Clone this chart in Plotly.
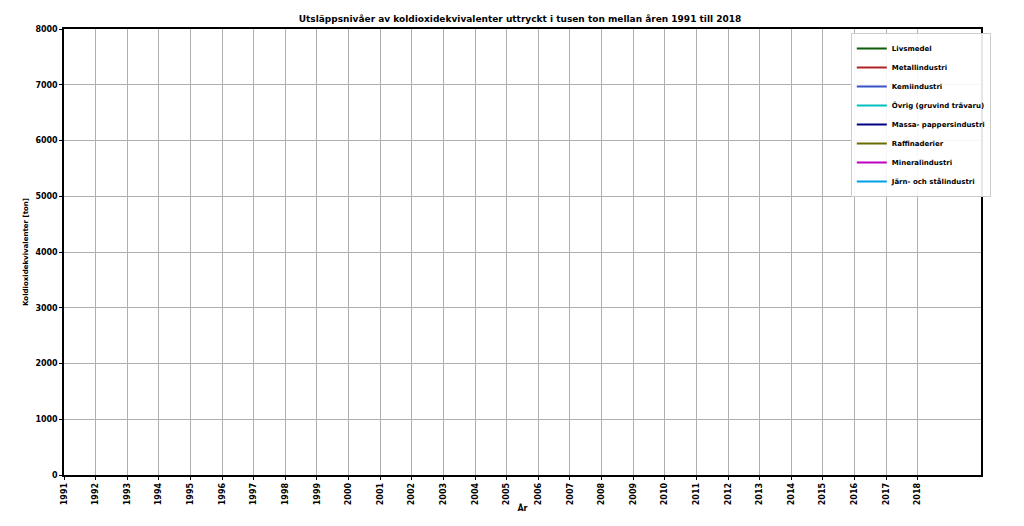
import plotly.graph_objects as go

years = list(range(1991, 2019))
year_labels = [str(y) for y in years]

industries = ['Livsmedel', 'Metallindustri', 'Kemiindustri', 'Övrig (gruvind trävaru)',
              'Massa- pappersindustri', 'Raffinaderier', 'Mineralindustri', 'Järn- och stålindustri']
colors = ['#0b5d0b', '#b22222', '#3a52c8', '#00bfbf', '#000080', '#6b6b00', '#c000c0', '#00a0e6']

# the reference shows no drawn values, only the legend entries
livsmedel = [None]
metallindustri = [None]
kemiindustri = [None]
ovrig = [None]
massa_papper = [None]
raffinaderier = [None]
mineralindustri = [None]
jarn_stal = [None]
series = [livsmedel, metallindustri, kemiindustri, ovrig, massa_papper, raffinaderier, mineralindustri, jarn_stal]

fig = go.Figure()
for name, color, values in zip(industries, colors, series):
    fig.add_trace(go.Scatter(x=years[:len(values)], y=values, mode='lines', name=name,
                             line=dict(color=color, width=2), showlegend=True))

axis_common = dict(showline=True, linecolor='black', linewidth=1.5, mirror=True,
                   showgrid=True, gridcolor='#b0b0b0', gridwidth=1,
                   ticks='outside', ticklen=3, tickcolor='black', zeroline=False,
                   tickfont=dict(size=8, color='black', weight='bold'))

fig.update_layout(
    width=1024, height=526,
    margin=dict(l=56, r=51, t=21, b=59),
    paper_bgcolor='white', plot_bgcolor='white',
    font=dict(family='DejaVu Sans', color='black'),
    title=dict(text='<b>Utsläppsnivåer av koldioxidekvivalenter uttryckt i tusen ton mellan åren 1991 till 2018</b>',
               x=0.5, xanchor='center', y=0.985, yanchor='top', font=dict(size=9)),
    xaxis=dict(range=[1991, 2020], tickmode='array', tickvals=years, ticktext=year_labels,
               tickangle=-90,
               title=dict(text='<b>År</b>', font=dict(size=8), standoff=1), **axis_common),
    yaxis=dict(range=[0, 8000], dtick=1000,
               title=dict(text='<b>Koldioxidekvivalenter [ton]</b>', font=dict(size=7), standoff=6),
               **axis_common),
    legend=dict(x=0.858, y=0.991, xanchor='left', yanchor='top', bgcolor='rgba(255,255,255,0.9)',
                bordercolor='#cccccc', borderwidth=1, font=dict(size=7, weight='bold'),
                tracegroupgap=0, itemwidth=30),
    showlegend=True,
)

fig.write_html('out.html')
